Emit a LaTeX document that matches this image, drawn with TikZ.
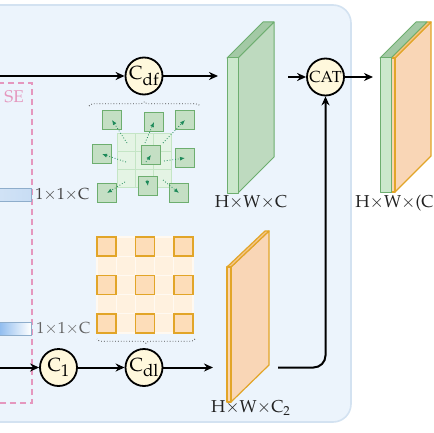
\documentclass[tikz,border=0pt]{standalone}
\usepackage[T1]{fontenc}
\usepackage{mathpazo}
\usetikzlibrary{arrows.meta,decorations.pathreplacing}
\definecolor{bgblue}{HTML}{ECF4FC}
\definecolor{bgborder}{HTML}{D3E2F1}
\definecolor{opfill}{HTML}{FFF8DC}
\definecolor{sepink}{HTML}{E597BE}
\definecolor{gfront}{HTML}{CBE8CC}
\definecolor{gside}{HTML}{BEDABF}
\definecolor{gtop}{HTML}{A3C9A5}
\definecolor{gline}{HTML}{6DAE6F}
\definecolor{ofront}{HTML}{FAD6B0}
\definecolor{oside}{HTML}{F9D6B6}
\definecolor{otop}{HTML}{F5C68A}
\definecolor{oline}{HTML}{E2A528}
\definecolor{ggbg}{HTML}{E4F4E4}
\definecolor{ggline}{HTML}{C4E5C5}
\definecolor{gsqfill}{HTML}{C4DFC4}
\definecolor{garrow}{HTML}{1E8A5A}
\definecolor{ogbg}{HTML}{FFF1DF}
\definecolor{ogline}{HTML}{FFF9F1}
\definecolor{osqfill}{HTML}{FDDDB9}
\definecolor{barblue}{HTML}{C8DDF4}
\definecolor{barline}{HTML}{8EADCB}
\definecolor{barblue2}{HTML}{6FA9EA}
\definecolor{txt}{HTML}{222222}
\newcommand{\opname}[2]{{\fontsize{9.5}{10}\selectfont #1}\raisebox{-2.6pt}{\fontsize{8.5}{9}\selectfont #2}}
\begin{document}
\begin{tikzpicture}[x=0.5pt,y=-0.5pt,
  arr/.style={line width=1pt,-{Stealth[length=4.5pt,width=4pt]}},
  opnode/.style={circle,draw,line width=0.9pt,fill=opfill,minimum size=18.5pt,inner sep=0pt,font=\fontsize{9}{10}\selectfont},
  lbl/.style={text=txt,font=\fontsize{8.6}{10}\selectfont,inner sep=0pt},
  smlbl/.style={text=txt!85,font=\fontsize{8}{10}\selectfont,inner sep=0pt,anchor=west},
  gsq/.style={draw=gline,fill=gsqfill,line width=0.8pt,minimum size=9.5pt,inner sep=0pt},
  osq/.style={draw=oline,fill=osqfill,line width=0.8pt,minimum size=9.5pt,inner sep=0pt},
  garr/.style={draw=garrow,line width=0.4pt,densely dotted,-{Latex[length=2.5pt,width=2pt]}},
  brc/.style={draw=black!70,line width=0.4pt,densely dotted,decorate,decoration={brace,amplitude=2.2pt}},
  gface/.style={draw=gline,line width=0.5pt,line join=round},
  oface/.style={draw=oline,line width=0.6pt,line join=round}]
\useasboundingbox (0,0) rectangle (433,433);
\clip (0,0) rectangle (433,433);
\fill[white] (0,0) rectangle (433,433);
% background panel
\filldraw[fill=bgblue,draw=bgborder,line width=0.8pt,rounded corners=9pt] (-30,5) rectangle (351,422);
% SE box
\draw[sepink,line width=0.6pt,dash pattern=on 3pt off 2pt] (-10,83) rectangle (32,403);
\node[text=sepink,font=\fontsize{8.5}{10}\selectfont,inner sep=0pt] (se) at (14,97) {SE};
% 1x1xC bars
\filldraw[draw=barline,line width=0.5pt,left color=barblue!80,right color=barblue] (-10,188) rectangle (31,201);
\node[smlbl] (b1) at (35,194.5) {1$\times$1$\times$C};
\filldraw[draw=barline,line width=0.5pt,left color=barblue2,right color=white] (-10,322) rectangle (31,335);
\node[smlbl,text=txt!70] (b2) at (36,328.5) {1$\times$1$\times$C};
% operator nodes
\node[opnode] (cdf) at (144,76) {\opname{C}{df}};
\node[opnode] (cat) at (325.5,77) {\fontsize{8}{9}\selectfont CAT};
\node[opnode] (c1) at (58.5,367.5) {\opname{C}{1}};
\node[opnode] (cdl) at (144,367.5) {\opname{C}{dl}};
\coordinate (in1) at (0,76);
\coordinate (in2) at (0,367.5);
\coordinate (gin) at (218,76);
\coordinate (gout) at (288,77);
\coordinate (oin) at (213,367.5);
\coordinate (oout) at (278,367.5);
\coordinate (outin) at (373,77);
% green slab
\filldraw[gface,fill=gside] (238,58) -- (274,22) -- (274,157) -- (238,193) -- cycle;
\filldraw[gface,fill=gtop] (227,58) -- (263,22) -- (274,22) -- (238,58) -- cycle;
\filldraw[gface,fill=gfront] (227,58) rectangle (238,193);
\node[lbl] (lg) at (251,202) {H$\times$W$\times$C};
% orange slab
\filldraw[oface,fill=oside] (231,267) -- (269,231) -- (269,365) -- (231,402) -- cycle;
\filldraw[oface,fill=otop] (227,267) -- (265,231) -- (269,231) -- (231,267) -- cycle;
\filldraw[oface,fill=ofront] (227,267) rectangle (231,402);
\node[lbl] (lo) at (251,408) {H$\times$W$\times$C$_2$};
% output slab
\filldraw[oface,fill=oside] (395,58) -- (431,22) -- (431,156) -- (395,192) -- cycle;
\filldraw[oface,fill=otop] (391,58) -- (427,22) -- (431,22) -- (395,58) -- cycle;
\filldraw[oface,fill=ofront] (391,58) rectangle (395,192);
\filldraw[gface,fill=gtop] (380,58) -- (416,22) -- (427,22) -- (391,58) -- cycle;
\filldraw[gface,fill=gfront] (380,58) rectangle (391,192);
\node[lbl,anchor=west] (lout) at (355,203) {H$\times$W$\times$(C};
% connectors
\draw[arr] (in1) -- (cdf);
\draw[arr] (cdf) -- (gin);
\draw[arr] (gout) -- (cat);
\draw[arr] (cat) -- (outin);
\draw[arr] (in2) -- (c1);
\draw[arr] (c1) -- (cdl);
\draw[arr] (cdl) -- (oin);
\draw[arr,rounded corners=6pt] (oout) -| (cat);
% green deformable grid
\fill[ggbg] (117,133) rectangle (172,188);
\foreach \i in {0,1,2,3} {
  \draw[ggline,line width=0.5pt] ({117+\i*18.33},133) -- ({117+\i*18.33},188);
  \draw[ggline,line width=0.5pt] (117,{133+\i*18.33}) -- (172,{133+\i*18.33});
}
\node[gsq] (s1) at (112,120) {};
\node[gsq] (s2) at (154,122) {};
\node[gsq] (s3) at (185,120) {};
\node[gsq] (s4) at (102,154) {};
\node[gsq] (s5) at (151,155) {};
\node[gsq] (s6) at (185,158) {};
\node[gsq] (s7) at (107,193) {};
\node[gsq] (s8) at (148,186) {};
\node[gsq] (s9) at (179,193) {};
\coordinate (g1) at (127,143);
\coordinate (g2) at (145,143);
\coordinate (g3) at (163,143);
\coordinate (g4) at (126,162);
\coordinate (g5) at (146,162);
\coordinate (g6) at (164,161);
\coordinate (g7) at (125,182);
\coordinate (g8) at (147,180);
\coordinate (g9) at (163,180);
\foreach \k in {1,...,9} { \draw[garr] (g\k) -- (s\k.center); }
\draw[brc] (89,106) -- (200,106);
% orange dilated grid
\fill[ogbg] (97,237) rectangle (193,333);
\foreach \i in {0,...,5} {
  \draw[ogline,line width=0.6pt] ({97+\i*19.2},237) -- ({97+\i*19.2},333);
  \draw[ogline,line width=0.6pt] (97,{237+\i*19.2}) -- (193,{237+\i*19.2});
}
\foreach \a/\b in {0/0,2/0,4/0,0/2,2/2,4/2,0/4,2/4,4/4} {
  \node[osq] (o\a\b) at ({106.6+\a*19.2},{246.6+\b*19.2}) {};
}
\draw[brc] (195,339) -- (97,339);
\end{tikzpicture}
\end{document}
